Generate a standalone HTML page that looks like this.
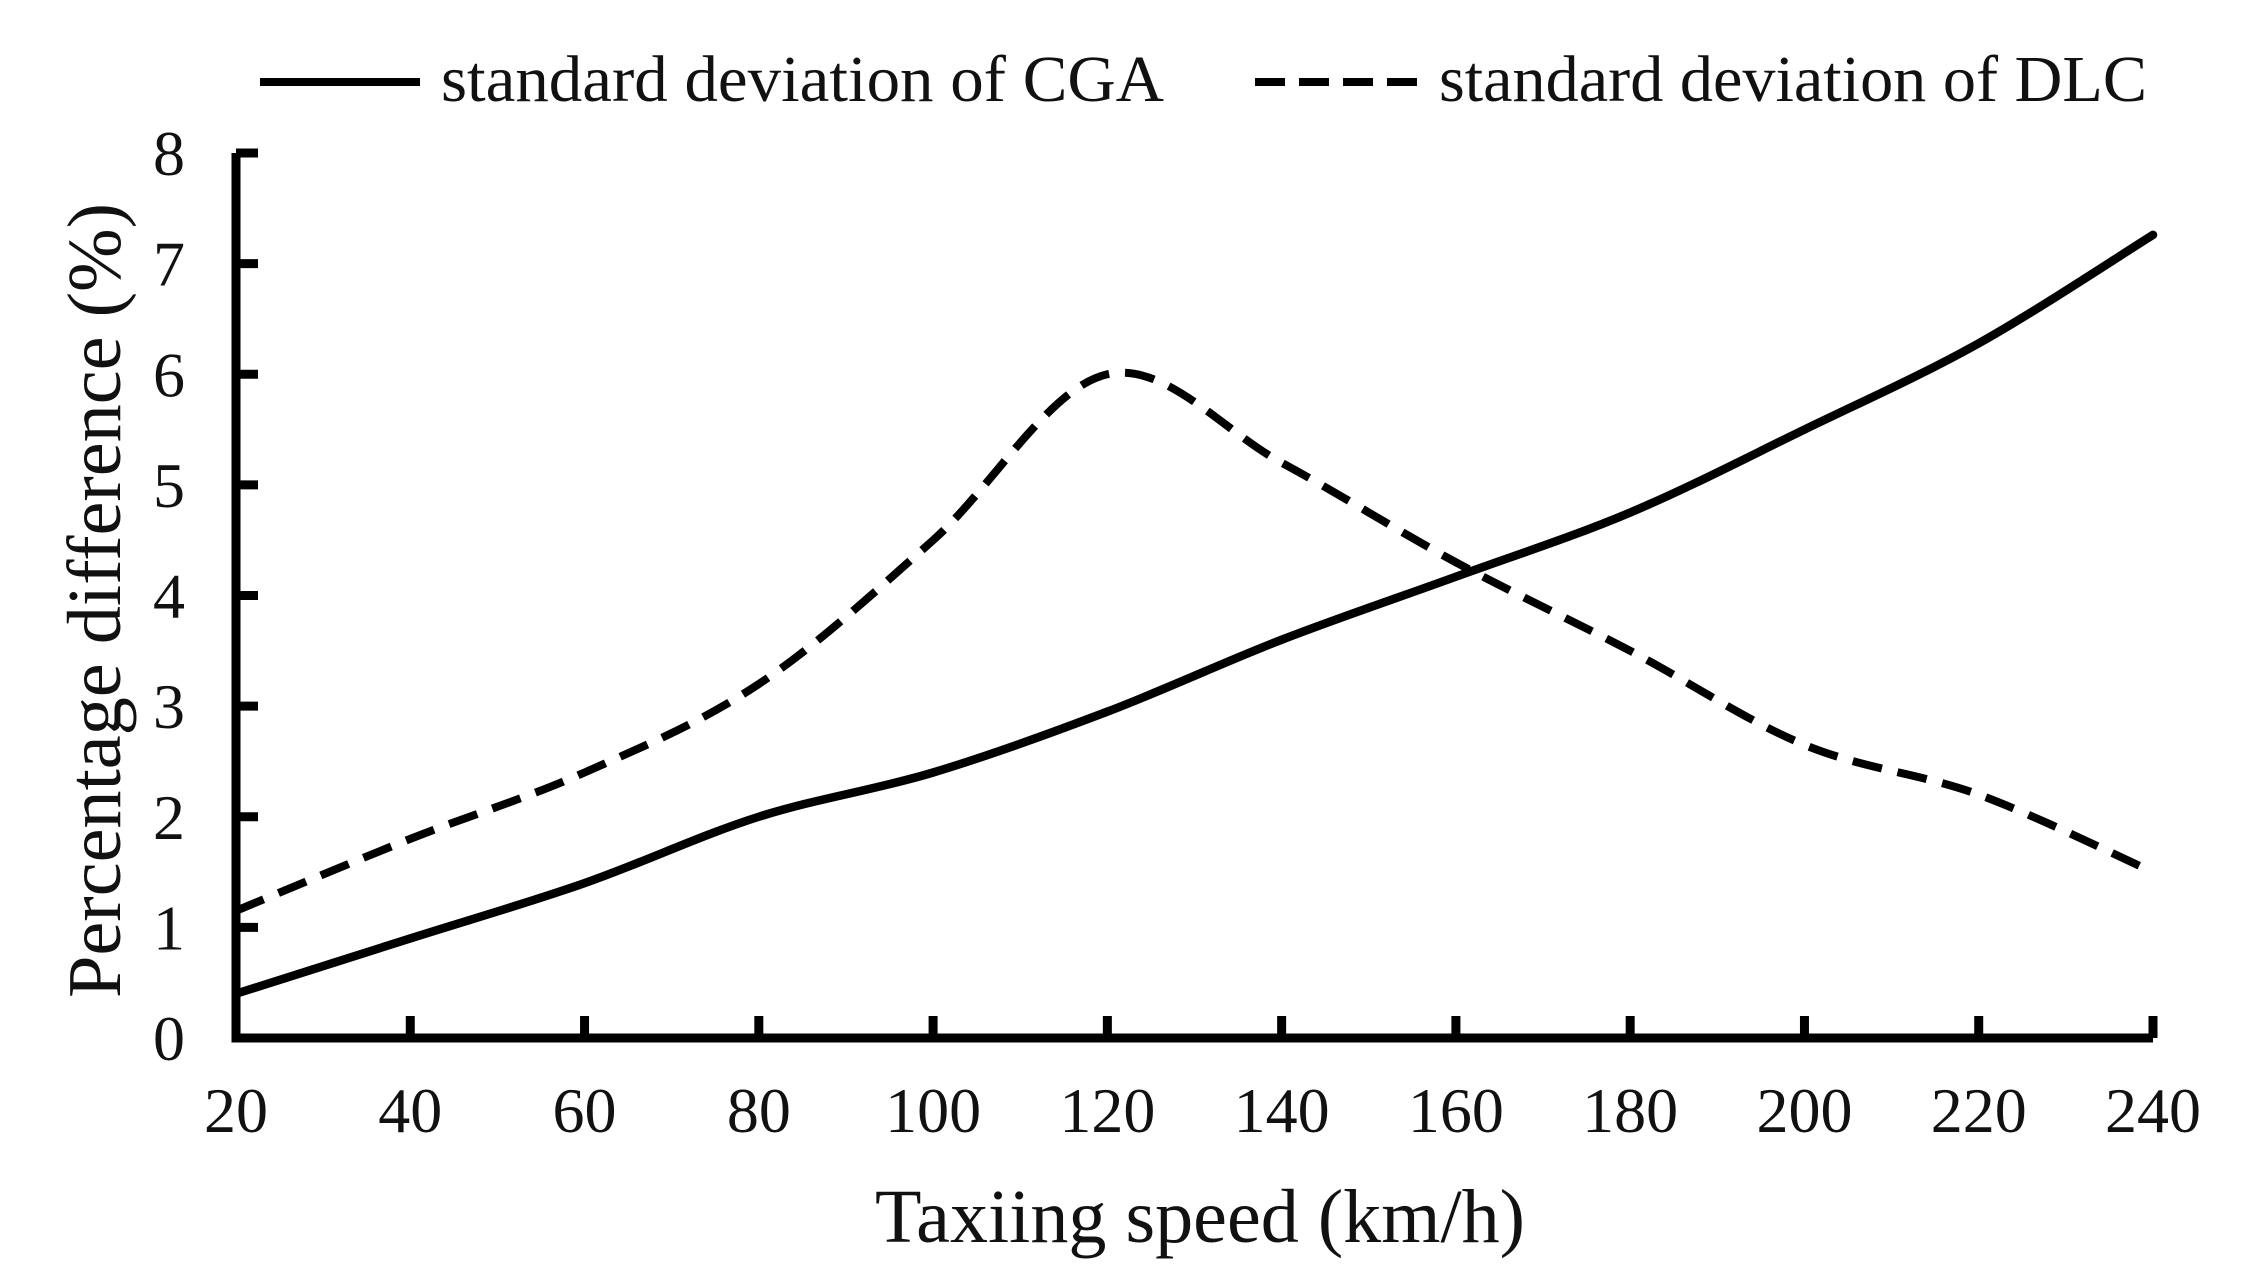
<!DOCTYPE html>
<html><head><meta charset="utf-8"><style>
html,body{margin:0;padding:0;background:#fff;}
svg{display:block;}
text{font-family:"Liberation Serif",serif;fill:#111;}
</style></head><body>
<svg id="s" width="2256" height="1281" viewBox="0 0 2256 1281" xmlns="http://www.w3.org/2000/svg">
<g id="g"></g>
</svg>
<script>
const NS="http://www.w3.org/2000/svg",g=document.getElementById('g');
function el(t,a,txt){const e=document.createElementNS(NS,t);for(const k in a)e.setAttribute(k,a[k]);if(txt!==undefined)e.textContent=txt;g.appendChild(e);return e;}
const X=v=>236+(v-20)*(2153-236)/220, Y=v=>1038-v*(1038-153)/8;
el('path',{d:`M${X(20)} ${Y(8)} L236 1038 L2153 1038`,fill:'none',stroke:'#000','stroke-width':9,'stroke-linejoin':'miter'});
for(let i=1;i<=8;i++){el('line',{x1:236,y1:Y(i),x2:258,y2:Y(i),stroke:'#000','stroke-width':9});
 el('text',{x:169,y:Y(i)+22,'font-size':64,'text-anchor':'middle'},String(i));}
el('text',{x:169,y:Y(0)+22,'font-size':64,'text-anchor':'middle'},'0');
for(let v=20;v<=240;v+=20){if(v>20)el('line',{x1:X(v),y1:1038,x2:X(v),y2:1016,stroke:'#000','stroke-width':9});
 el('text',{x:X(v),y:1132,'font-size':64,'text-anchor':'middle'},String(v));}
el('text',{x:875,y:1242,'font-size':76,textLength:650,lengthAdjust:'spacingAndGlyphs'},'Taxiing speed (km/h)');
el('text',{x:-398,y:0,'font-size':76,textLength:795,lengthAdjust:'spacingAndGlyphs',transform:'translate(120,600) rotate(-90)'},'Percentage difference (%)');
const xs=[20,40,60,80,100,120,140,160,180,200,220,240];
const cga=[0.4,0.9,1.4,2.0,2.4,2.95,3.6,4.17,4.75,5.5,6.28,7.26];
const dlc=[1.15,1.8,2.4,3.2,4.5,6.0,5.2,4.3,3.5,2.65,2.2,1.5];
function path(ys){const p=xs.map((x,i)=>[X(x),Y(ys[i])]);let d=`M${p[0][0]} ${p[0][1]}`;
 for(let i=0;i<p.length-1;i++){const p0=p[i-1]||p[i],p1=p[i],p2=p[i+1],p3=p[i+2]||p2;
 d+=` C${p1[0]+(p2[0]-p0[0])/6} ${p1[1]+(p2[1]-p0[1])/6} ${p2[0]-(p3[0]-p1[0])/6} ${p2[1]-(p3[1]-p1[1])/6} ${p2[0]} ${p2[1]}`;}return d;}
el('path',{d:path(cga),fill:'none',stroke:'#000','stroke-width':8.5,'stroke-linecap':'round'});
el('path',{d:path(dlc),fill:'none',stroke:'#000','stroke-width':8,'stroke-dasharray':'30 16'});
el('line',{x1:260,y1:82,x2:420,y2:82,stroke:'#000','stroke-width':8});
el('text',{x:441,y:101,'font-size':66,textLength:723,lengthAdjust:'spacingAndGlyphs'},'standard deviation of CGA');
el('line',{x1:1255,y1:82,x2:1417,y2:82,stroke:'#000','stroke-width':8,'stroke-dasharray':'30 14'});
el('text',{x:1439,y:101,'font-size':66,textLength:708,lengthAdjust:'spacingAndGlyphs'},'standard deviation of DLC');
</script>
</body></html>
